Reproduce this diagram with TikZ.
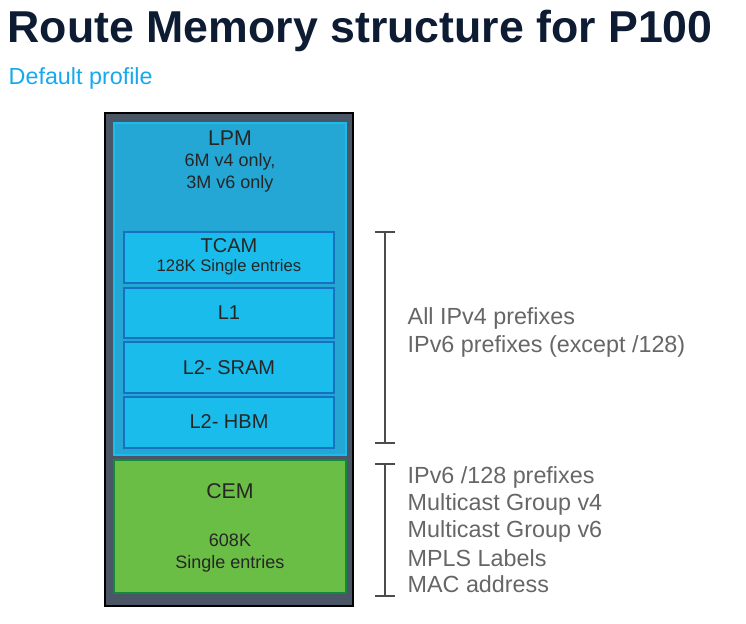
\documentclass[tikz,border=0pt]{standalone}
\usepackage{fontspec}
\setmainfont{Liberation Sans}
\begin{document}
\begin{tikzpicture}[x=0.75pt,y=-0.75pt,
  lab/.style={text=black!85,align=center,font=\fontsize{13.5}{16}\selectfont},
  side/.style={text=black!60,anchor=west,font=\fontsize{17.5}{20}\selectfont},
  brk/.style={draw=black!70,line width=1.2pt}]
\useasboundingbox (0,0) rectangle (746,624);
\definecolor{slate}{HTML}{4A5565}
\definecolor{lpm}{HTML}{25A7D6}
\definecolor{sub}{HTML}{1ABCEB}
\definecolor{subb}{HTML}{1572C0}
\definecolor{cem}{HTML}{6BBE45}
\definecolor{cemb}{HTML}{138A3A}
\definecolor{navy}{HTML}{0D1B33}
\node[anchor=west,text=navy,font=\bfseries\fontsize{33.5}{38}\selectfont] (title) at (3,31) {Route Memory structure for P100};
\node[anchor=west,text=sub!90!blue,font=\fontsize{17.5}{20}\selectfont] (prof) at (4,78) {Default profile};
\fill[slate] (105,113) rectangle (353,606);
\draw[black,line width=1pt] (105,113) rectangle (353,606);
\draw[fill=lpm,draw=sub,line width=1pt] (114,123) rectangle (346,455);
\node[lab,anchor=north] (lpm) at (230,126) {{\fontsize{16}{19}\selectfont LPM}\\[0pt]6M v4 only,\\3M v6 only};
\foreach \a/\b in {232/283,288/338,342/393,397/448}{
  \draw[fill=sub,draw=subb,line width=1.2pt] (124,\a) rectangle (334,\b);
}
\node[lab] (tcam) at (229,257) {{\fontsize{15}{17}\selectfont TCAM}\\[-2pt]{\fontsize{12.5}{14}\selectfont 128K Single entries}};
\node[lab,font=\fontsize{15}{17}\selectfont] (l1) at (229,313) {L1};
\node[lab,font=\fontsize{15}{17}\selectfont] (sram) at (229,368) {L2- SRAM};
\node[lab,font=\fontsize{15}{17}\selectfont] (hbm) at (229,422) {L2- HBM};
\draw[fill=cem,draw=cemb,line width=1.2pt] (114,460) rectangle (346,593);
\node[lab,font=\fontsize{16}{19}\selectfont] (cem) at (230,491) {CEM};
\node[lab] (ent) at (230,553) {608K\\Single entries};
\coordinate (a1) at (385,232); \coordinate (a2) at (385,443);
\coordinate (b1) at (385,464); \coordinate (b2) at (385,596);
\draw[brk] (a1) -- (a2); \draw[brk] (375,232) -- (395,232); \draw[brk] (375,443) -- (395,443);
\draw[brk] (b1) -- (b2); \draw[brk] (375,464) -- (395,464); \draw[brk] (375,596) -- (395,596);
\node[side] (s1) at (403,318) {All IPv4 prefixes};
\node[side] (s2) at (403,346) {IPv6 prefixes (except /128)};
\node[side] (t1) at (403,477) {IPv6 /128 prefixes};
\node[side] (t2) at (403,504) {Multicast Group v4};
\node[side] (t3) at (403,531) {Multicast Group v6};
\node[side] (t4) at (403,558) {MPLS Labels};
\node[side] (t5) at (403,584) {MAC address};
\end{tikzpicture}
\end{document}
